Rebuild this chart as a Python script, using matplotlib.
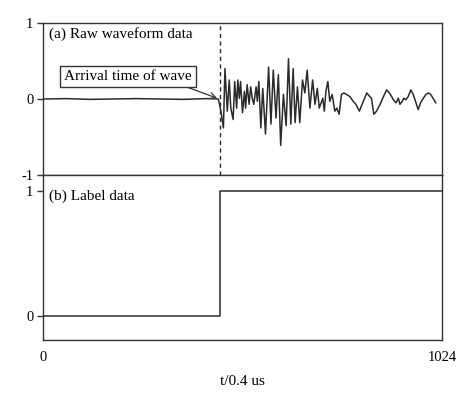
import numpy as np
import matplotlib
matplotlib.use("Agg")
import matplotlib.pyplot as plt

plt.rcParams['font.family'] = ['Liberation Serif', 'DejaVu Serif']

# raw waveform (t in samples, amplitude)
t_wave = [0, 60, 120, 180, 240, 300, 360, 420, 450, 456, 463, 467, 473, 478, 482, 488,
          492, 497, 500, 504, 507, 512, 517, 520, 524, 529, 533, 537, 541, 547,
          550, 554, 559, 564, 571, 579, 585, 591, 598, 604, 610, 617, 624, 630,
          636, 642, 647, 653, 659, 666, 672, 678, 685, 692, 698, 704, 709, 718,
          722, 726, 731, 736, 742, 749, 754, 760, 766, 772, 779, 788, 796, 803,
          812, 822, 831, 839, 843, 849, 856, 865, 872, 878, 882, 889, 895, 899,
          906, 912, 916, 922, 926, 931, 937, 944, 950, 956, 963, 969, 976, 983,
          989, 995, 1001, 1008]
a_wave = [0.0, 0.005, -0.005, 0.0, 0.005, 0.0, -0.005, 0.005, 0.0, -0.14, -0.38, 0.40, -0.16, 0.25, -0.12, -0.27,
          0.23, -0.12, 0.25, 0.01, 0.23, -0.18, 0.10, -0.12, 0.19, -0.07, 0.16, 0.01, -0.07, 0.16,
          -0.03, 0.23, -0.38, 0.14, -0.46, 0.42, -0.33, 0.38, -0.25, 0.32, -0.61, 0.06, -0.35, 0.53,
          -0.33, 0.40, -0.31, 0.16, -0.31, 0.25, 0.08, 0.38, -0.12, 0.25, -0.07, 0.14, -0.12, 0.01,
          -0.16, 0.10, 0.23, -0.03, 0.06, -0.16, -0.12, -0.20, 0.06, 0.08, 0.06, 0.03, -0.03, -0.07,
          -0.16, -0.03, 0.08, 0.03, 0.01, -0.20, -0.16, -0.07, 0.01, 0.08, 0.12, 0.08, 0.03, -0.01,
          -0.05, 0.01, -0.07, -0.03, 0.01, -0.01, 0.03, 0.12, 0.06, -0.03, -0.14, -0.05, 0.01, 0.06,
          0.08, 0.06, 0.01, -0.05]

# label data
t_label = [0, 455, 455, 1024]
y_label = [0, 0, 1, 1]
arrival = 454

line_c = '#2b2b2b'
fig = plt.figure(figsize=(4.74, 3.98), dpi=100)
ax1 = fig.add_axes([0.0907, 0.5603, 0.8418, 0.3819])
ax2 = fig.add_axes([0.0907, 0.1457, 0.8418, 0.4146])

for ax in (ax1, ax2):
    for s in ax.spines.values():
        s.set_color('#333333')
        s.set_linewidth(1.0)
    ax.set_xlim(0, 1024)
    ax.tick_params(axis='y', direction='out', length=4, width=1.0, color='#333333',
                   labelsize=10.5, pad=3)

ax1.plot(t_wave, a_wave, color=line_c, lw=1.1)
ax1.axvline(arrival, color=line_c, lw=1.0, ls=(0, (3, 2.5)))
ax1.set_ylim(-1, 1)
ax1.set_yticks([1, 0, -1])
ax1.set_yticklabels(['1', '0', '-1'])
ax1.set_xticks([])
ax1.text(0.014, 0.925, '(a) Raw waveform data', transform=ax1.transAxes, fontsize=11,
         ha='left', va='center')
ax1.annotate('Arrival time of wave', xy=(447, 0.01), xytext=(218, 0.30),
             fontsize=11, ha='center', va='center',
             bbox=dict(boxstyle='square,pad=0.25', fc='white', ec='#333333', lw=1.0),
             arrowprops=dict(arrowstyle='->', color='#333333', lw=0.9,
                             shrinkA=0, shrinkB=0, relpos=(0.87, 0.0)))

ax2.plot(t_label, y_label, color=line_c, lw=1.1)
ax2.set_ylim(-0.19, 1.128)
ax2.set_yticks([1, 0])
ax2.set_xticks([0, 1024])
ax2.tick_params(axis='x', length=0, labelsize=10.5, pad=8)
ax2.text(0.014, 0.87, '(b) Label data', transform=ax2.transAxes, fontsize=11,
         ha='left', va='center')
ax2.set_xlabel('t/0.4 us', fontsize=11, labelpad=8)

fig.savefig('out.png', dpi=100)
